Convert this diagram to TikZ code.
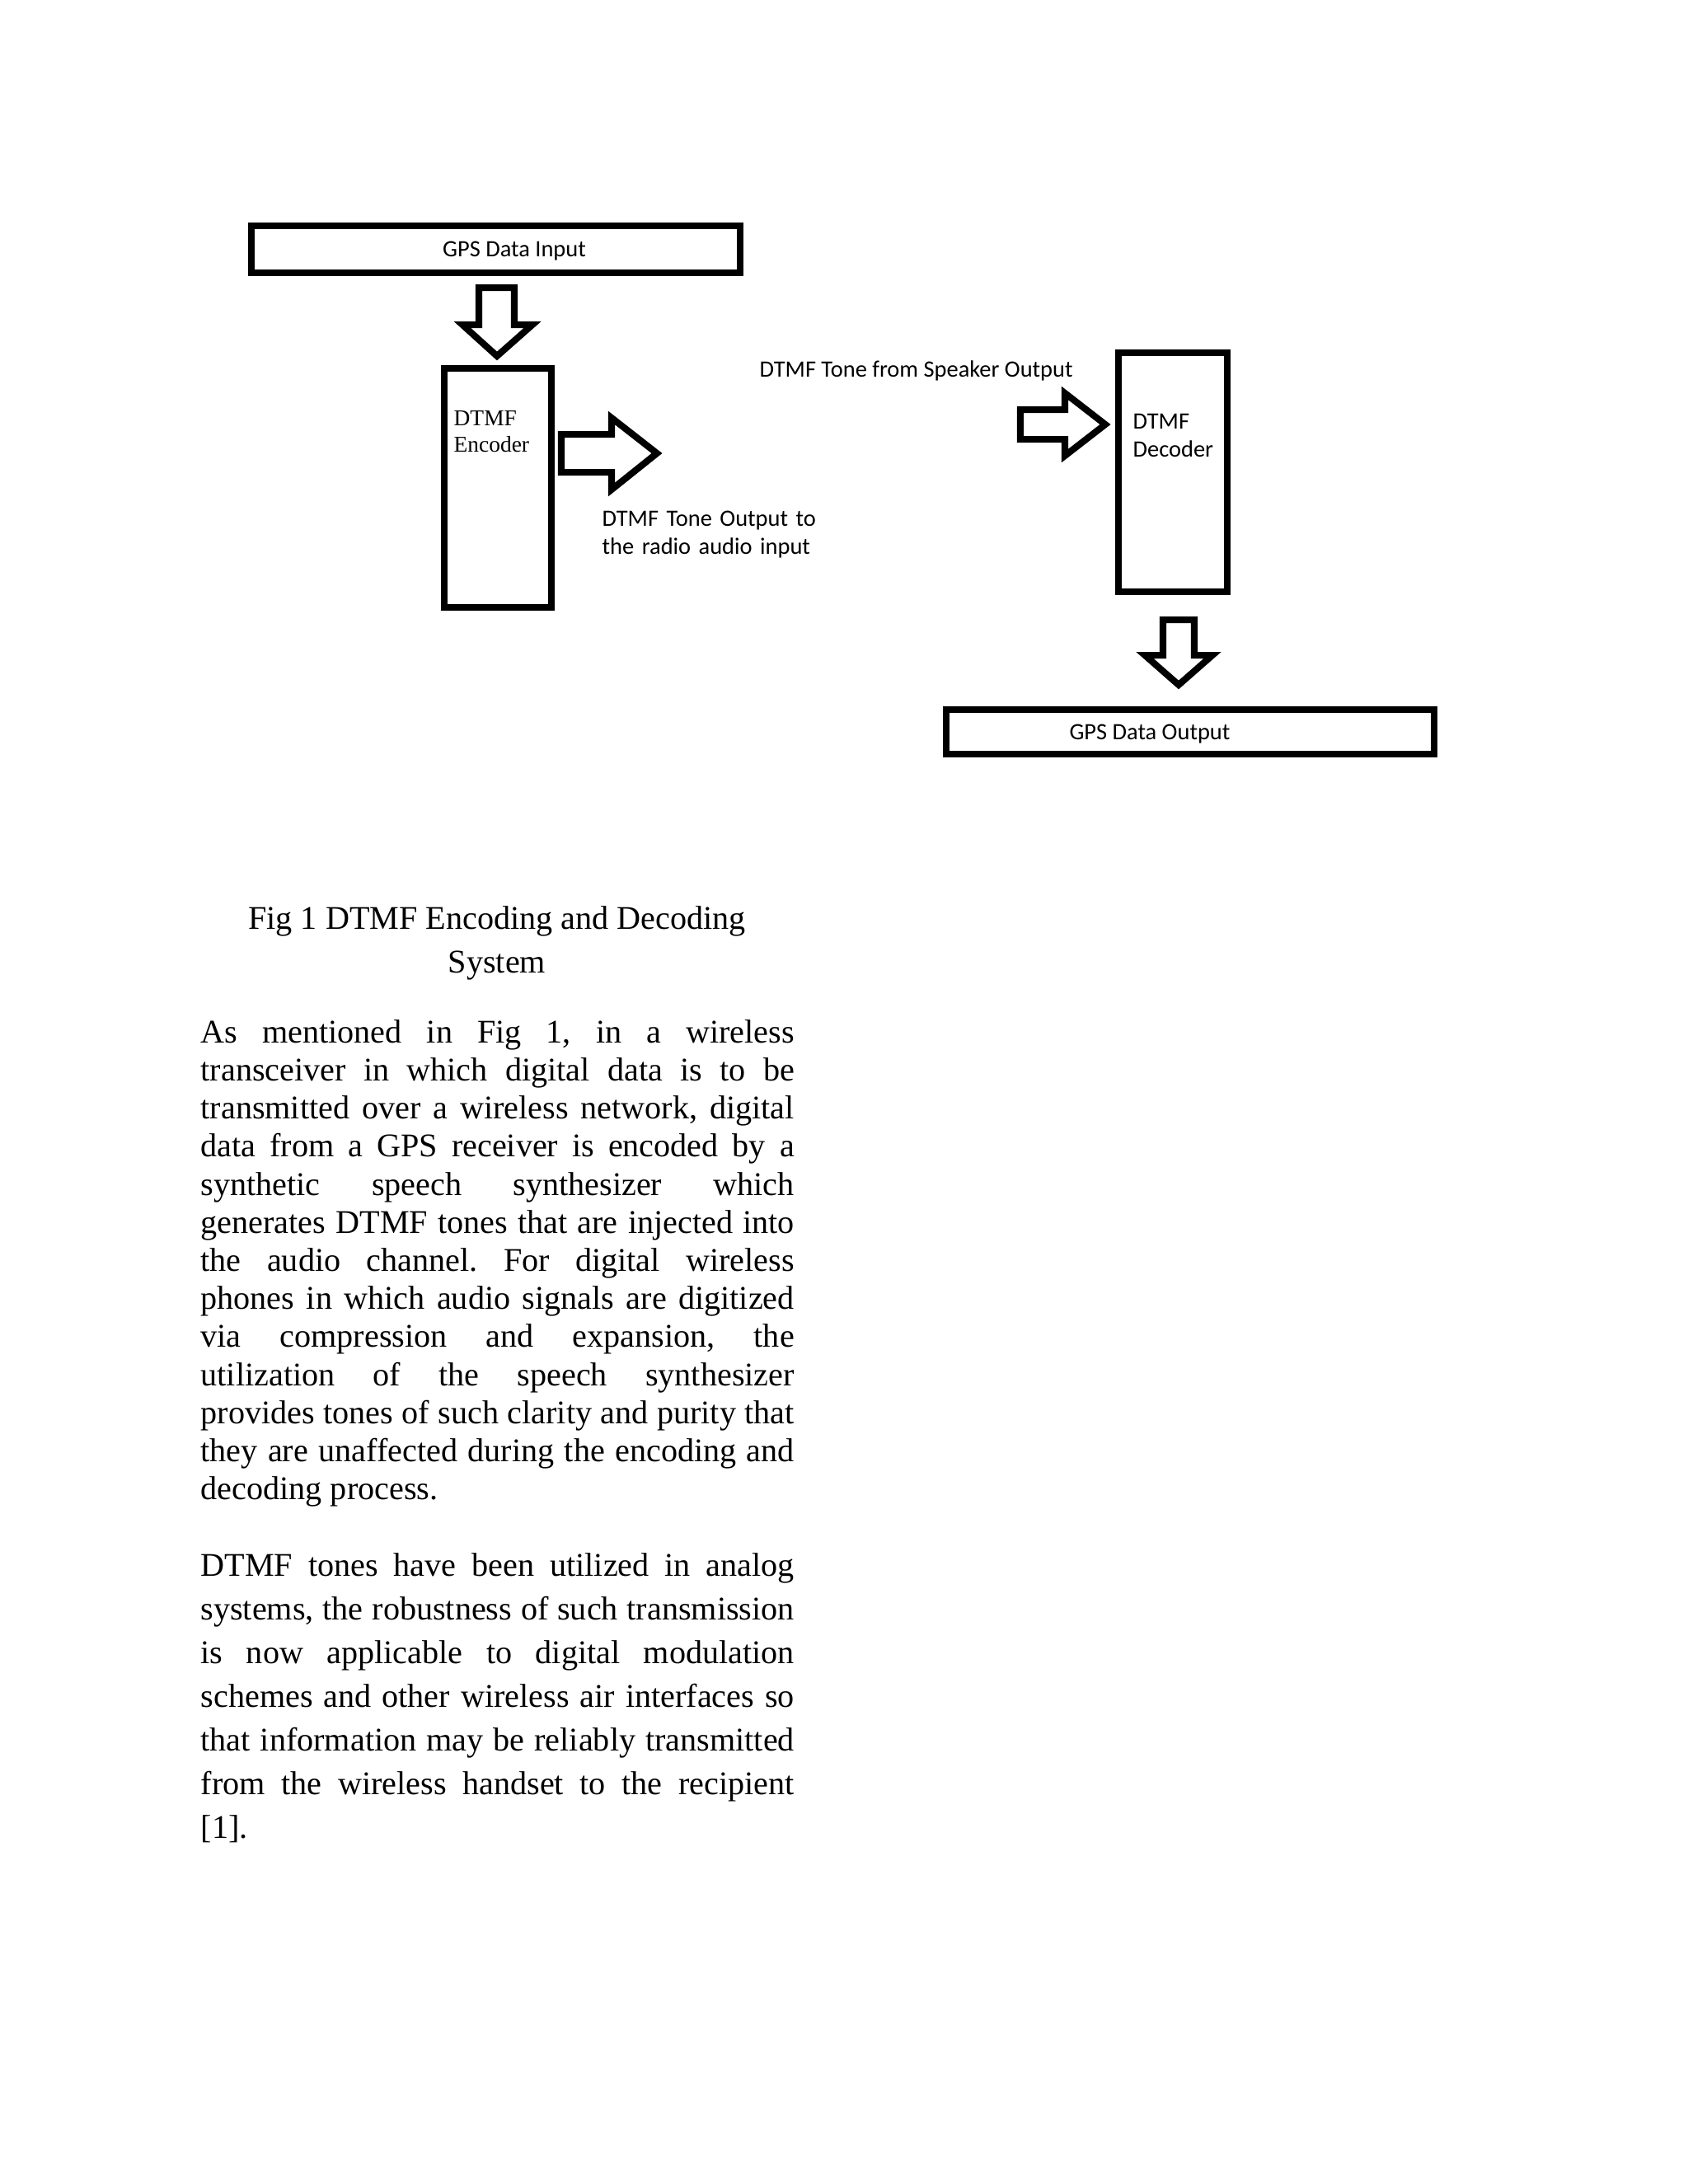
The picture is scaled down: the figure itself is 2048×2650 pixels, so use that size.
\documentclass[tikz,border=0pt]{standalone}
\usepackage{fontspec}
\setmainfont{Liberation Serif}
\newfontfamily\calibrifont{Carlito}
\newcommand\px{0.29883pt}
\frenchspacing
\tolerance=10000
\hyphenpenalty=10000
\hbadness=10000

\begin{document}
\begin{tikzpicture}[
    x=0.29883pt, y=-0.29883pt,
    sbox/.style={draw, line width=2.5pt, inner sep=0pt},
    barrow/.style={draw, line width=2.4pt, line join=miter, fill=white},
    sanslbl/.style={font=\calibrifont\fontsize{8.5pt}{10.16pt}\selectfont, inner sep=0pt},
    seriflbl/.style={font=\fontsize{8.2pt}{9.56pt}\selectfont, inner sep=0pt},
    captxt/.style={font=\fontsize{12pt}{15.84pt}\selectfont, inner sep=0pt, anchor=base},
    para/.style={inner sep=0pt, text width=215.2pt, align=justify, anchor=base west}
    ]
	\fill [white] (0,0) rectangle (2048,2650);
	\useasboundingbox (0,0) rectangle (2048,2650);

	\node [sbox, minimum width=593*\px, minimum height=57*\px] (gpsin) at (601.5,302.5) {};
	\node [sanslbl, anchor=base] (gpsinlbl) at (624,311) {GPS Data Input};

	\node [sbox, minimum width=130*\px, minimum height=290*\px] (enc) at (604,592) {};
	\node [seriflbl, text width=40pt, align=left, anchor=base west] (enclbl) at (550,516) {DTMF\\Encoder};

	\node [sbox, minimum width=132*\px, minimum height=290*\px] (dec) at (1423,573) {};
	\node [sanslbl, text width=40pt, align=left, anchor=base west] (declbl) at (1374,520) {DTMF\\Decoder};

	\node [sbox, minimum width=592*\px, minimum height=54*\px] (gpsout) at (1444,888) {};
	\node [sanslbl, anchor=base] (gpsoutlbl) at (1395,897) {GPS Data Output};

	\node [sanslbl, text width=90pt, align=left, anchor=base west] (txlbl) at (730,638) {DTMF Tone Output to\\the radio audio input};
	\node [sanslbl, anchor=base west] (rxlbl) at (921,457) {DTMF Tone from Speaker Output};

	\draw [barrow] (581,349) -- (624,349) -- (624,394) -- (646,394) -- (603,432) -- (561,394) -- (581,394) -- cycle;
	\draw [barrow] (681,527) -- (742,527) -- (742,507) -- (797,550) -- (742,594) -- (742,573) -- (681,573) -- cycle;
	\draw [barrow] (1238,497) -- (1292,497) -- (1292,477) -- (1341,515) -- (1292,553) -- (1292,533) -- (1238,533) -- cycle;
	\draw [barrow] (1411,752) -- (1449,752) -- (1449,795) -- (1471,795) -- (1430,831) -- (1389,795) -- (1411,795) -- cycle;

	\node [captxt] (cap1) at (603,1127) {Fig 1 DTMF Encoding and Decoding};
	\node [captxt] (cap2) at (603,1180) {System};

	\node [para, font=\fontsize{12pt}{13.82pt}\selectfont] (par1) at (243,1265) {As mentioned in Fig 1, in a wireless\linebreak
	transceiver in which digital data is to be\linebreak
	transmitted over a wireless network, digital\linebreak
	data from a GPS receiver is encoded by a\linebreak
	synthetic speech synthesizer which\linebreak
	generates DTMF tones that are injected into\linebreak
	the audio channel. For digital wireless\linebreak
	phones in which audio signals are digitized\linebreak
	via compression and expansion, the\linebreak
	utilization of the speech synthesizer\linebreak
	provides tones of such clarity and purity that\linebreak
	they are unaffected during the encoding and\linebreak
	decoding process.};

	\node [para, font=\fontsize{12pt}{15.84pt}\selectfont] (par2) at (243,1912) {DTMF tones have been utilized in analog\linebreak
	systems, the robustness of such transmission\linebreak
	is now applicable to digital modulation\linebreak
	schemes and other wireless air interfaces so\linebreak
	that information may be reliably transmitted\linebreak
	from the wireless handset to the recipient\linebreak\relax
	[1].};
\end{tikzpicture}
\end{document}
